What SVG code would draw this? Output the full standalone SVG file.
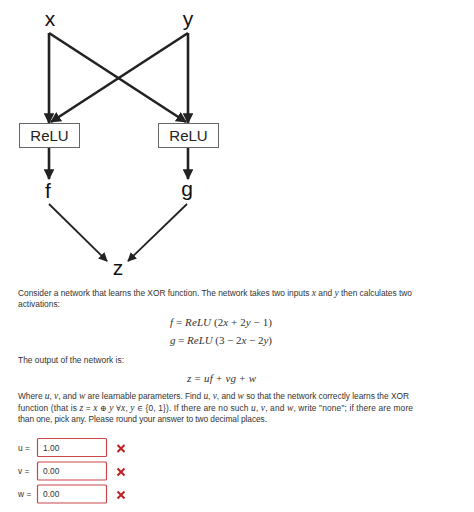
<svg xmlns="http://www.w3.org/2000/svg" width="474" height="512" viewBox="0 0 474 512">
<style>
.lbl{font-family:"Liberation Sans",Arial,sans-serif;font-size:21px;fill:#111;text-anchor:middle}
.box{fill:#fff;stroke:#666;stroke-width:1}
.relu{font-family:"Liberation Sans",Arial,sans-serif;font-size:15px;fill:#222;text-anchor:middle}
.edge{stroke:#222;stroke-width:2.6;fill:none;marker-end:url(#ah)}
.edge2{stroke:#222;stroke-width:1.8;fill:none;marker-end:url(#ah2)}
.p{font-family:"Liberation Sans",Arial,sans-serif;font-size:8.4px;fill:#333}
.m{font-family:"Liberation Serif","Times New Roman",serif;font-style:italic;font-size:9.5px}
.op{font-family:"DejaVu Serif",serif;font-size:8px}
.eq{font-family:"Liberation Serif","Times New Roman",serif;font-size:11px;fill:#333;text-anchor:middle}
.eq .m{font-size:11px}
.inp{fill:#fff;stroke:#c9474a;stroke-width:1.2}
.val{font-family:"Liberation Sans",Arial,sans-serif;font-size:8.4px;fill:#333}
.x{stroke:#c01f24;stroke-width:2;stroke-linecap:butt}
</style>
<defs>
<marker id="ah" viewBox="0 0 10 10" refX="9" refY="5" markerWidth="4.2" markerHeight="4.2" orient="auto" markerUnits="strokeWidth">
<path d="M0,0 L10,5 L0,10 z" fill="#222"/>
</marker>
<marker id="ah2" viewBox="0 0 10 10" refX="9" refY="5" markerWidth="5" markerHeight="5" orient="auto" markerUnits="strokeWidth">
<path d="M0,0 L10,5 L0,10 z" fill="#222"/>
</marker>
</defs>
<rect width="474" height="512" fill="#fff"/>
<g id="connectors">
<line class="edge" x1="49" y1="33" x2="49" y2="123"/>
<line class="edge" x1="49" y1="33" x2="186" y2="122"/>
<line class="edge" x1="188" y1="33" x2="188" y2="123"/>
<line class="edge" x1="188" y1="33" x2="51" y2="122"/>
<line class="edge" x1="49" y1="147" x2="49" y2="179"/>
<line class="edge" x1="188" y1="147" x2="188" y2="179"/>
<line class="edge2" x1="49" y1="204" x2="107" y2="261"/>
<line class="edge2" x1="187" y1="204" x2="128" y2="261"/>
</g>
<g id="node-x"><text class="lbl" x="50" y="26">x</text></g>
<g id="node-y"><text class="lbl" x="188" y="26">y</text></g>
<g id="node-relu1"><rect class="box" x="19.5" y="123.5" width="60" height="24"/><text class="relu" x="49.5" y="141">ReLU</text></g>
<g id="node-relu2"><rect class="box" x="158.5" y="123.5" width="60" height="24"/><text class="relu" x="188.5" y="141">ReLU</text></g>
<g id="node-f"><text class="lbl" x="48" y="198">f</text></g>
<g id="node-g"><text class="lbl" x="187" y="196">g</text></g>
<g id="node-z"><text class="lbl" x="118" y="275">z</text></g>

<text class="p" x="18" y="296" textLength="394">Consider a network that learns the XOR function. The network takes two inputs <tspan class="m">x</tspan> and <tspan class="m">y</tspan> then calculates two</text>
<text class="p" x="18" y="307">activations:</text>
<text class="eq" x="221" y="326" textLength="102"><tspan class="m">f</tspan> = <tspan class="m">ReLU</tspan> (2<tspan class="m">x</tspan> + 2<tspan class="m">y</tspan> − 1)</text>
<text class="eq" x="221" y="344" textLength="102"><tspan class="m">g</tspan> = <tspan class="m">ReLU</tspan> (3 − 2<tspan class="m">x</tspan> − 2<tspan class="m">y</tspan>)</text>
<text class="p" x="18" y="363" textLength="106">The output of the network is:</text>
<text class="eq" x="221.5" y="382" textLength="69"><tspan class="m">z</tspan> = <tspan class="m">uf</tspan> + <tspan class="m">vg</tspan> + <tspan class="m">w</tspan></text>
<text class="p" x="18" y="399" textLength="391">Where <tspan class="m">u</tspan>, <tspan class="m">v</tspan>, and <tspan class="m">w</tspan> are learnable parameters. Find <tspan class="m">u</tspan>, <tspan class="m">v</tspan>, and <tspan class="m">w</tspan> so that the network correctly learns the XOR</text>
<text class="p" x="18" y="411" textLength="395">function (that is <tspan class="m">z</tspan> = <tspan class="m">x</tspan> <tspan class="op">⊕</tspan> <tspan class="m">y</tspan> <tspan class="op">∀</tspan><tspan class="m">x</tspan>, <tspan class="m">y</tspan> <tspan class="op">∈</tspan> {0, 1}). If there are no such <tspan class="m">u</tspan>, <tspan class="m">v</tspan>, and <tspan class="m">w</tspan>, write "none"; if there are more</text>
<text class="p" x="18" y="422" textLength="249">than one, pick any. Please round your answer to two decimal places.</text>

<g id="input-u">
<text class="val" x="18" y="451">u =</text>
<rect class="inp" x="37.5" y="438.5" width="69" height="18" rx="1"/>
<text class="val" x="43" y="451">1.00</text>
<path class="x" d="M117.5,445 L124.5,452 M124.5,445 L117.5,452"/>
</g>
<g id="input-v">
<text class="val" x="18" y="474">v =</text>
<rect class="inp" x="37.5" y="462" width="69" height="18" rx="1"/>
<text class="val" x="43" y="474">0.00</text>
<path class="x" d="M117.5,468.5 L124.5,475.5 M124.5,468.5 L117.5,475.5"/>
</g>
<g id="input-w">
<text class="val" x="18" y="497">w =</text>
<rect class="inp" x="37.5" y="485" width="69" height="18" rx="1"/>
<text class="val" x="43" y="497">0.00</text>
<path class="x" d="M117.5,491.5 L124.5,498.5 M124.5,491.5 L117.5,498.5"/>
</g>
</svg>
